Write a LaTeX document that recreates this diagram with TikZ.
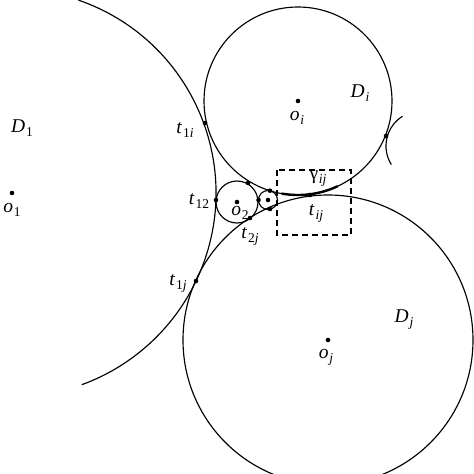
\documentclass[tikz,border=0pt]{standalone}
\usepackage{fontspec}
\setmainfont{Liberation Serif}
\newcommand\lb[2]{\textit{#1}\kern0.8pt\raisebox{-0.45ex}{\fontsize{13.5}{14}\selectfont #2}}
\begin{document}
\begin{tikzpicture}[x=1pt,y=-1pt,line width=1.15pt,
  dot/.style={circle,fill,inner sep=0pt,minimum size=4.6pt},
  lbl/.style={font=\fontsize{19.5}{22}\selectfont,inner sep=0pt}]
\useasboundingbox (0,0) rectangle (474,474);
\clip (0,0) rectangle (474,474);
% centres
\coordinate (C1) at (12,193);
\coordinate (Ci) at (298,101);
\coordinate (Cj) at (328,340);
\coordinate (C2) at (237,202);
\coordinate (C3) at (268,200);
\coordinate (Cr) at (421,146);
% circles
\draw (C1) ++(71:204pt) arc[start angle=71,end angle=-70,radius=204pt];
\draw (Ci) circle[radius=94pt];
\draw (Cj) circle[radius=145pt];
\draw (C2) circle[radius=21pt];
\draw (C3) circle[radius=9.5pt];
\draw (Cr) ++(122:35pt) arc[start angle=122,end angle=212,radius=35pt];
\draw[line width=2.4pt] (Ci) ++(-100:94pt) arc[start angle=-100,end angle=-65,radius=94pt];
\draw[dashed,dash pattern=on 6pt off 4pt] (277,170) rectangle (351,235);
% dots
\node[dot] (o1) at (C1) {};
\node[dot] (oi) at (Ci) {};
\node[dot] (oj) at (Cj) {};
\node[dot] (o2) at (C2) {};
\node[dot] (o3) at (C3) {};
\node[dot] (t1i) at (205,123) {};
\node[dot] (t12) at (216,200) {};
\node[dot] (t1j) at (196,281) {};
\node[dot] (t2j) at (250,218) {};
\node[dot] (t2i) at (248,183) {};
\node[dot] (t3l) at (258.5,200) {};
\node[dot] (t3t) at (270,190.7) {};
\node[dot] (t3b) at (270,209) {};
\node[dot] (tij) at (310,195) {};
\node[dot] (tr) at (386,136) {};
% labels
\node[lbl] (lD1) at (22,128) {\lb{D}{1}};
\node[lbl] (lo1) at (12,210) {\lb{o}{1}};
\node[lbl] (lDi) at (360,93) {\lb{D}{\textit{i}}};
\node[lbl] (loi) at (297,118) {\lb{o}{\textit{i}}};
\node[lbl] (lt1i) at (185,130) {\lb{t}{1\textit{i}}};
\node[lbl] (lt12) at (199,201) {\lb{t}{12}};
\node[lbl] (lo2) at (240,213) {\lb{o}{2}};
\node[lbl] (lt2j) at (250,236) {\lb{t}{2\textit{j}}};
\node[lbl] (lt1j) at (178,283) {\lb{t}{1\textit{j}}};
\node[lbl] (lg) at (318,178) {γ\kern0.5pt\raisebox{-0.45ex}{\fontsize{13.5}{14}\selectfont\textit{ij}}};
\node[lbl] (ltij) at (316,213) {\lb{t}{\textit{ij}}};
\node[lbl] (lDj) at (404,320) {\lb{D}{\textit{j}}};
\node[lbl] (loj) at (326,357) {\lb{o}{\textit{j}}};
\end{tikzpicture}
\end{document}
